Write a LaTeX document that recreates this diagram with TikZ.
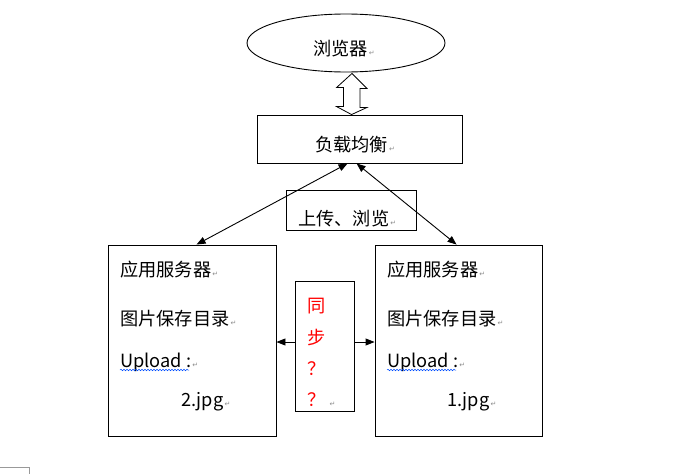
\documentclass[tikz,border=0pt]{standalone}
\usepackage{fontspec}
\setmainfont{Noto Sans CJK SC}
\newfontfamily\symfont{DejaVu Sans}
\usetikzlibrary{arrows.meta,shapes.geometric,calc,decorations.pathmorphing}
\newcommand\parmark{{\symfont\fontsize{7}{8}\selectfont\color{black!45}\,↵}}
\begin{document}
\begin{tikzpicture}[x=1pt,y=-1pt,
  box/.style={draw,line width=0.9pt,inner sep=0pt},
  txt/.style={inner sep=0pt,anchor=base west,font=\fontsize{18.2}{20}\selectfont},
  redtxt/.style={txt,text=red},
  conn/.style={line width=0.9pt,{Triangle[length=9pt,width=7pt]}-{Triangle[length=9pt,width=7pt]}},
  oneway/.style={line width=0.9pt,-{Triangle[length=9pt,width=7pt]}}]
\useasboundingbox (0,0) rectangle (695,474);
% shapes
\node[box,ellipse,minimum width=198,minimum height=58] (br) at (346,43) {};
\node[box,minimum width=205,minimum height=48] (lb) at (359.5,139) {};
\node[box,minimum width=130,minimum height=40] (up) at (351,210) {};
\node[box,minimum width=168,minimum height=191] (ls) at (192,340.5) {};
\node[box,minimum width=167,minimum height=191] (rs) at (458.5,340.5) {};
\node[box,minimum width=59,minimum height=130] (mid) at (324.5,346) {};
% hollow double arrow
\draw[line width=0.8pt,fill=white] ($(br.south)+(6,1)$) coordinate (dt)
  -- ++(15,15) -- ++(-7,0) -- ++(0,19) -- ++(7,0) -- ($(lb.north west)+(95,0)$) coordinate (db)
  -- ++(-15,-8) -- ++(7,0) -- ++(0,-19) -- ++(-7,0) -- cycle;
% texts
\node[txt] (t1) at (313,55) {浏览器\parmark};
\node[txt] (t2) at (315,151) {负载均衡\parmark};
\node[txt] (t3) at (298,225) {上传、浏览\parmark};
\node[txt] (l1) at (120,276) {应用服务器\parmark};
\node[txt] (l2) at (120,325) {图片保存目录\parmark};
\node[txt] (l3) at (120,367) {Upload :\parmark};
\node[txt] (l4) at (181,406) {2.jpg\parmark};
\node[txt] (r1) at (387,276) {应用服务器\parmark};
\node[txt] (r2) at (387,325) {图片保存目录\parmark};
\node[txt] (r3) at (387,367) {Upload :\parmark};
\node[txt] (r4) at (447,406) {1.jpg\parmark};
\node[redtxt] (m1) at (307,312) {同};
\node[redtxt] (m2) at (307,344) {步};
\node[redtxt] (m3) at (307,375) {？};
\node[redtxt] (m4) at (307,406) {？\,\parmark};
% spelling underline
\draw[blue!70!cyan,line width=0.5pt,decorate,decoration={snake,amplitude=0.8pt,segment length=3pt}]
  ($(l3.base west)+(0,3)$) -- ($(l3.base west)+(69,3)$);
\draw[blue!70!cyan,line width=0.5pt,decorate,decoration={snake,amplitude=0.8pt,segment length=3pt}]
  ($(r3.base west)+(0,3)$) -- ($(r3.base west)+(69,3)$);
% connectors
\draw[conn] ($(lb.south west)+(91,0)$) -- ($(ls.north west)+(89,0)$);
\draw[conn] ($(lb.south west)+(100,0)$) -- ($(rs.north west)+(82,0)$);
\coordinate (mw) at ($(mid.west)+(0,-4)$);
\coordinate (me) at ($(mid.east)+(0,-4)$);
\draw[oneway] (mw) -- (mw -| ls.east);
\draw[oneway] (me) -- (me -| rs.west);
% page corner mark
\coordinate (c0) at (0,467.5);
\coordinate (c1) at (29,467.5);
\coordinate (c2) at (29,474);
\draw[black!40,line width=0.8pt] (c0) -- (c1) -- (c2);
\end{tikzpicture}
\end{document}
